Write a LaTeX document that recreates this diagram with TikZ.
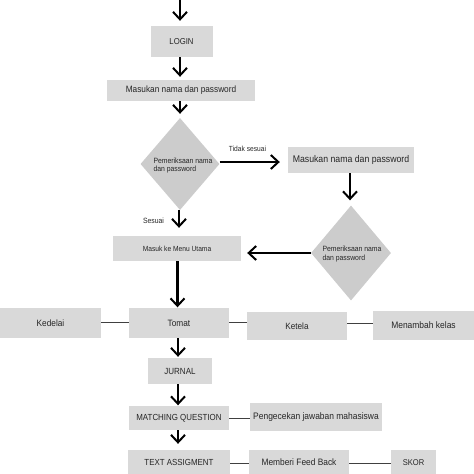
\documentclass[tikz,border=0pt]{standalone}
\usepackage{fontspec}
\setmainfont{Liberation Sans}[FakeStretch=0.9]
\usetikzlibrary{arrows.meta,shapes.geometric}
\definecolor{boxgray}{HTML}{D9D9D9}
\definecolor{diagray}{HTML}{CCCCCC}
\definecolor{txt}{HTML}{262626}
\definecolor{lin}{HTML}{404040}
\newcommand{\fs}[1]{\fontsize{#1}{#1}\selectfont}
\tikzset{
  x=1pt, y=-1pt,
  box/.style={rectangle, fill=boxgray, draw=none, inner sep=0pt, text=txt, anchor=center},
  dia/.style={diamond, fill=diagray, draw=none, inner sep=0pt},
  lbl/.style={text=txt, inner sep=0pt, align=left},
  arr/.style={line width=2.3pt, black, -{Straight Barb[length=7.5pt,width=14pt,line width=2pt]}},
  conn/.style={line width=0.9pt, lin},
}
\begin{document}
\begin{tikzpicture}
\useasboundingbox (0,0) rectangle (474,474);
% boxes
\node[box, minimum width=62pt, minimum height=31pt, font=\fs{8.6}] (login) at (181.5,41.5) {LOGIN};
\node[box, minimum width=148pt, minimum height=21pt, font=\fs{9.2}] (in1) at (181,90.5) {Masukan nama dan password};
\node[dia, minimum width=79pt, minimum height=92pt] (d1) at (180,164) {};
\node[lbl, font=\fs{7.6}] (d1t) at (183,165.5) {Pemeriksaan nama\\[1pt]dan password};
\node[box, minimum width=126pt, minimum height=26pt, font=\fs{9.7}] (in2) at (351,160) {Masukan nama dan password};
\node[dia, minimum width=80pt, minimum height=95pt] (d2) at (351,253) {};
\node[lbl, font=\fs{7.6}] (d2t) at (352,254) {Pemeriksaan nama\\[1pt]dan password};
\node[box, minimum width=128pt, minimum height=25pt, font=\fs{7.4}] (menu) at (177,248.5) {Masuk ke Menu Utama};
\node[box, minimum width=100pt, minimum height=30pt, font=\fs{9.2}] (tomat) at (179,323) {Tomat};
\node[box, minimum width=101pt, minimum height=30pt, font=\fs{9.2}] (kedelai) at (50.5,323) {Kedelai};
\node[box, minimum width=100pt, minimum height=28pt, font=\fs{9.1}] (ketela) at (297,326) {Ketela};
\node[box, minimum width=101pt, minimum height=29pt, font=\fs{9.4}] (menambah) at (423.5,325.5) {Menambah kelas};
\node[box, minimum width=64pt, minimum height=26pt, font=\fs{8.9}] (jurnal) at (180,371) {JURNAL};
\node[box, minimum width=100pt, minimum height=24pt, font=\fs{8.8}] (matching) at (179,418) {MATCHING QUESTION};
\node[box, minimum width=132pt, minimum height=28pt, font=\fs{9.4}] (peng) at (316,417) {Pengecekan jawaban mahasiswa};
\node[box, minimum width=102pt, minimum height=25pt, font=\fs{8.8}] (text) at (179,462.5) {TEXT ASSIGMENT};
\node[box, minimum width=100pt, minimum height=25pt, font=\fs{9.3}] (feed) at (299,462.5) {Memberi Feed Back};
\node[box, minimum width=45pt, minimum height=25pt, font=\fs{8.4}] (skor) at (413.5,462.5) {SKOR};
% labels
\node[lbl, font=\fs{7.4}] (tidak) at (247.5,149) {Tidak sesuai};
\node[lbl, font=\fs{7.6}] (sesuai) at (153.5,221) {Sesuai};
% arrows
\coordinate (start) at (180,0);
\draw[arr, shorten >=5pt] (start) -- (start |- login.north);
\draw[arr, shorten >=3pt] (login.south -| 180,0) -- (in1.north -| 180,0);
\draw[arr, shorten >=4pt] (in1.south -| 180,0) -- (d1.north);
\draw[arr, shorten >=8pt] (d1.east |- 0,162) -- (in2.west |- 0,162);
\draw[arr, shorten >=8pt] (d1.south -| 179,0) -- (menu.north -| 179,0);
\draw[arr, shorten >=5pt] (in2.south -| 350,0) -- (d2.north -| 350,0);
\draw[arr, shorten >=6pt] (d2.west) -- (d2.west -| menu.east);
\draw[arr, shorten >=0.5pt] (menu.south -| 177.5,0) -- (tomat.north -| 177.5,0);
\draw[arr, shorten >=1pt] (tomat.south -| 178,0) -- (jurnal.north -| 178,0);
\draw[arr, shorten >=0.5pt] (jurnal.south -| 178,0) -- (matching.north -| 178,0);
\draw[arr, shorten >=6pt] (matching.south -| 178,0) -- (text.north -| 178,0);
% connectors
\draw[conn] (kedelai.east |- 0,322) -- (tomat.west |- 0,322);
\draw[conn] (tomat.east |- 0,322) -- (ketela.west |- 0,322);
\draw[conn] (ketela.east |- 0,323) -- (menambah.west |- 0,323);
\draw[conn] (matching.east |- 0,418) -- (peng.west |- 0,418);
\draw[conn] (text.east |- 0,463) -- (feed.west |- 0,463);
\draw[conn] (feed.east |- 0,463) -- (skor.west |- 0,463);
\end{tikzpicture}
\end{document}
